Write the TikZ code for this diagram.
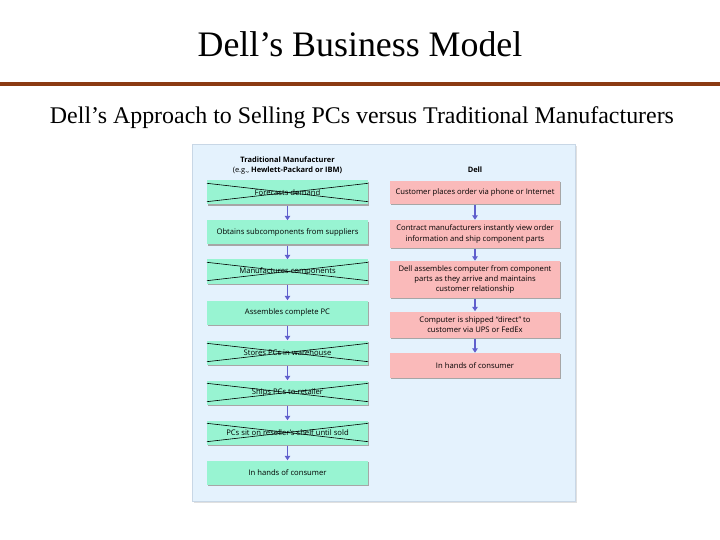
\documentclass[tikz,border=0pt]{standalone}
\usepackage{fontspec}
\setmainfont{Liberation Serif}
\newfontfamily\diag{Open Sans}
\usetikzlibrary{arrows.meta,shadows}
\definecolor{rule}{RGB}{139,58,18}
\definecolor{panel}{RGB}{228,242,253}
\definecolor{panelline}{RGB}{200,215,230}
\definecolor{mint}{RGB}{152,244,210}
\definecolor{pinkbox}{RGB}{250,186,186}
\definecolor{arrowc}{RGB}{95,95,205}
\tikzset{
  box/.style={inner sep=0pt, align=center, font=\diag\fontsize{7.7}{10.2}\selectfont,
    drop shadow={shadow xshift=1.2bp, shadow yshift=-1.2bp, fill=black!35, opacity=1}},
  lbox/.style={box, fill=mint, minimum width=161bp, minimum height=24bp},
  rbox/.style={box, fill=pinkbox, minimum width=170bp},
  arr/.style={draw=arrowc, line width=1.2bp, -{Triangle[width=5.5bp,length=4.5bp]}, shorten <=1bp},
  xline/.style={draw=black, line width=0.6bp},
  hdr/.style={font=\diag\bfseries\fontsize{7.5}{10}\selectfont, align=center}
}
\begin{document}
\begin{tikzpicture}[x=1bp,y=-1bp]
\useasboundingbox (0,0) rectangle (720,540);
% title
\node[anchor=base, font=\fontsize{36}{40}\selectfont] (title) at (360,57) {Dell’s Business Model};
\fill[rule] (0,82) rectangle (720,86);
\node[anchor=base, font=\fontsize{24}{28}\selectfont] (sub) at (362,124) {Dell’s Approach to Selling PCs versus Traditional Manufacturers};
% panel
\fill[black!12] (194,146) rectangle (577,503);
\filldraw[fill=panel, draw=panelline, line width=0.5bp] (192,144) rectangle (575,501);
% headers
\node[hdr] (lh) at (287.5,166) {Traditional Manufacturer\\{\mdseries(e.g.,} Hewlett-Packard or IBM)};
\node[hdr] (rh) at (475,170) {Dell};
% left column
\node[lbox] (l1) at (287.5,192.5) {Forecasts demand};
\node[lbox] (l2) at (287.5,232.5) {Obtains subcomponents from suppliers};
\node[lbox] (l3) at (287.5,271.5) {Manufactures components};
\node[lbox] (l4) at (287.5,312.5) {Assembles complete PC};
\node[lbox] (l5) at (287.5,352.5) {Stores PCs in warehouse};
\node[lbox] (l6) at (287.5,392.5) {Ships PCs to retailer};
\node[lbox] (l7) at (287.5,432.5) {PCs sit on reseller’s shelf until sold};
\node[lbox] (l8) at (287.5,472.5) {In hands of consumer};
\foreach \a/\b in {l1/l2,l2/l3,l3/l4,l4/l5,l5/l6,l6/l7,l7/l8}
  \draw[arr] (\a.south) -- (\b.north);
\foreach \n in {l1,l3,l5,l6,l7}{
  \draw[xline] ([yshift=-3bp]\n.north west) -- ([yshift=3bp]\n.south east);
  \draw[xline] ([yshift=3bp]\n.south west) -- ([yshift=-3bp]\n.north east);
}
% right column
\node[rbox, minimum height=23bp] (r1) at (475,192.5) {Customer places order via phone or Internet};
\node[rbox, minimum height=28bp] (r2) at (475,234) {Contract manufacturers instantly view order\\information and ship component parts};
\node[rbox, minimum height=37bp] (r3) at (475,279.5) {Dell assembles computer from component\\parts as they arrive and maintains\\customer relationship};
\node[rbox, minimum height=26bp] (r4) at (475,324.5) {Computer is shipped “direct” to\\customer via UPS or FedEx};
\node[rbox, minimum height=25bp] (r5) at (475,365.5) {In hands of consumer};
\foreach \a/\b in {r1/r2,r2/r3,r3/r4,r4/r5}
  \draw[arr] (\a.south) -- (\b.north);
\end{tikzpicture}
\end{document}
